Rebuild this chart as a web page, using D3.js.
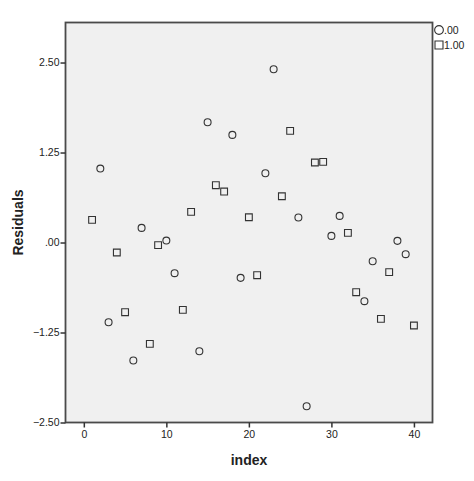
<!DOCTYPE html>
<html>
<head>
<meta charset="utf-8">
<script src="https://cdn.jsdelivr.net/npm/d3@7"></script>
<style>
  body { margin: 0; background: #fff; }
  text { font-family: "Liberation Sans", Arial, sans-serif; }
</style>
</head>
<body>
<svg id="chart" width="474" height="481"></svg>
<script>
// residuals by index, group .00 = circle, 1.00 = square
var idx = [1,2,3,4,5,6,7,8,9,10,11,12,13,14,15,16,17,18,19,20,
           21,22,23,24,25,26,27,28,29,30,31,32,33,34,35,36,37,38,39,40];
var residuals = [0.314,1.027,-1.107,-0.139,-0.968,-1.639,0.203,-1.408,-0.037,0.027,
                 -0.426,-0.936,0.425,-1.510,1.671,0.796,0.708,1.495,-0.491,0.351,
                 -0.454,0.962,2.407,0.643,1.550,0.347,-2.274,1.111,1.120,0.092,
                 0.370,0.134,-0.690,-0.815,-0.260,-1.061,-0.412,0.023,-0.162,-1.153];
var group = [1,0,0,1,1,0,0,1,1,0,0,1,1,0,0,1,1,0,0,1,
             1,0,0,1,1,0,0,1,1,0,0,1,1,0,0,1,1,0,0,1];
var groupLabels = [".00", "1.00"];
var xTicks = [0,10,20,30,40];
var yTicks = [-2.5,-1.25,0,1.25,2.5];

var pts = idx.map(function(d,i){ return {x:d, y:residuals[i], g:group[i]}; });

var svg = d3.select("#chart");
var L = 65.5, T = 22.5, R = 432.5, B = 422.5;

var x = d3.scaleLinear().domain([-2.22, 42.25]).range([L, R]);
var y = d3.scaleLinear().domain([-2.5, 3.056]).range([B, T]);

// plot background
svg.append("rect")
    .attr("x", L).attr("y", T)
    .attr("width", R-L).attr("height", B-T)
    .attr("fill", "#f0f0f0")
    .attr("stroke", "#4a4a4a")
    .attr("stroke-width", 1.8);

var fmt = function(d){
    var s = d3.format(".2f")(d);
    return s.replace(/^0\./, ".").replace(/^-0\./, "-.");
};

// axes
var yAxis = svg.append("g")
    .attr("transform", "translate(" + L + ",0)")
    .call(d3.axisLeft(y).tickValues(yTicks).tickSize(5).tickPadding(1).tickFormat(fmt));
var xAxis = svg.append("g")
    .attr("transform", "translate(0," + B + ")")
    .call(d3.axisBottom(x).tickValues(xTicks).tickSize(5).tickPadding(3));

[xAxis, yAxis].forEach(function(a){
    a.select(".domain").remove();
    a.selectAll(".tick line").attr("stroke", "#333").attr("stroke-width", 1.5);
    a.selectAll(".tick text")
        .attr("fill", "#222")
        .style("font-family", "'Liberation Sans', Arial, sans-serif")
        .style("font-size", "10.5px");
});

// axis titles
svg.append("text")
    .attr("x", (L+R)/2).attr("y", 465)
    .attr("text-anchor", "middle")
    .style("font-weight", "bold").style("font-size", "14px")
    .attr("fill", "#222")
    .text("index");
svg.append("text")
    .attr("transform", "translate(23," + ((T+B)/2) + ") rotate(-90)")
    .attr("text-anchor", "middle")
    .style("font-weight", "bold").style("font-size", "14px")
    .attr("fill", "#222")
    .text("Residuals");

// markers
var sym = [d3.symbolCircle, d3.symbolSquare];
var symSize = [38, 46];
svg.selectAll(".pt")
    .data(pts)
    .enter().append("path")
    .attr("class", "pt")
    .attr("transform", function(d){ return "translate(" + x(d.x) + "," + y(d.y) + ")"; })
    .attr("d", function(d){ return d3.symbol().type(sym[d.g]).size(symSize[d.g])(); })
    .attr("fill", "none")
    .attr("stroke", "#333")
    .attr("stroke-width", 1.1);

// legend
var leg = svg.append("g").attr("transform", "translate(439,30)");
groupLabels.forEach(function(lbl, i){
    var g = leg.append("g").attr("transform", "translate(0," + (i*15) + ")");
    g.append("path")
        .attr("d", d3.symbol().type(sym[i]).size(i ? 64 : 60)())
        .attr("fill", "none").attr("stroke", "#333").attr("stroke-width", 1.1);
    g.append("text")
        .attr("x", 5).attr("y", 4)
        .style("font-size", "10.5px")
        .attr("fill", "#222")
        .text(lbl);
});
</script>
</body>
</html>
